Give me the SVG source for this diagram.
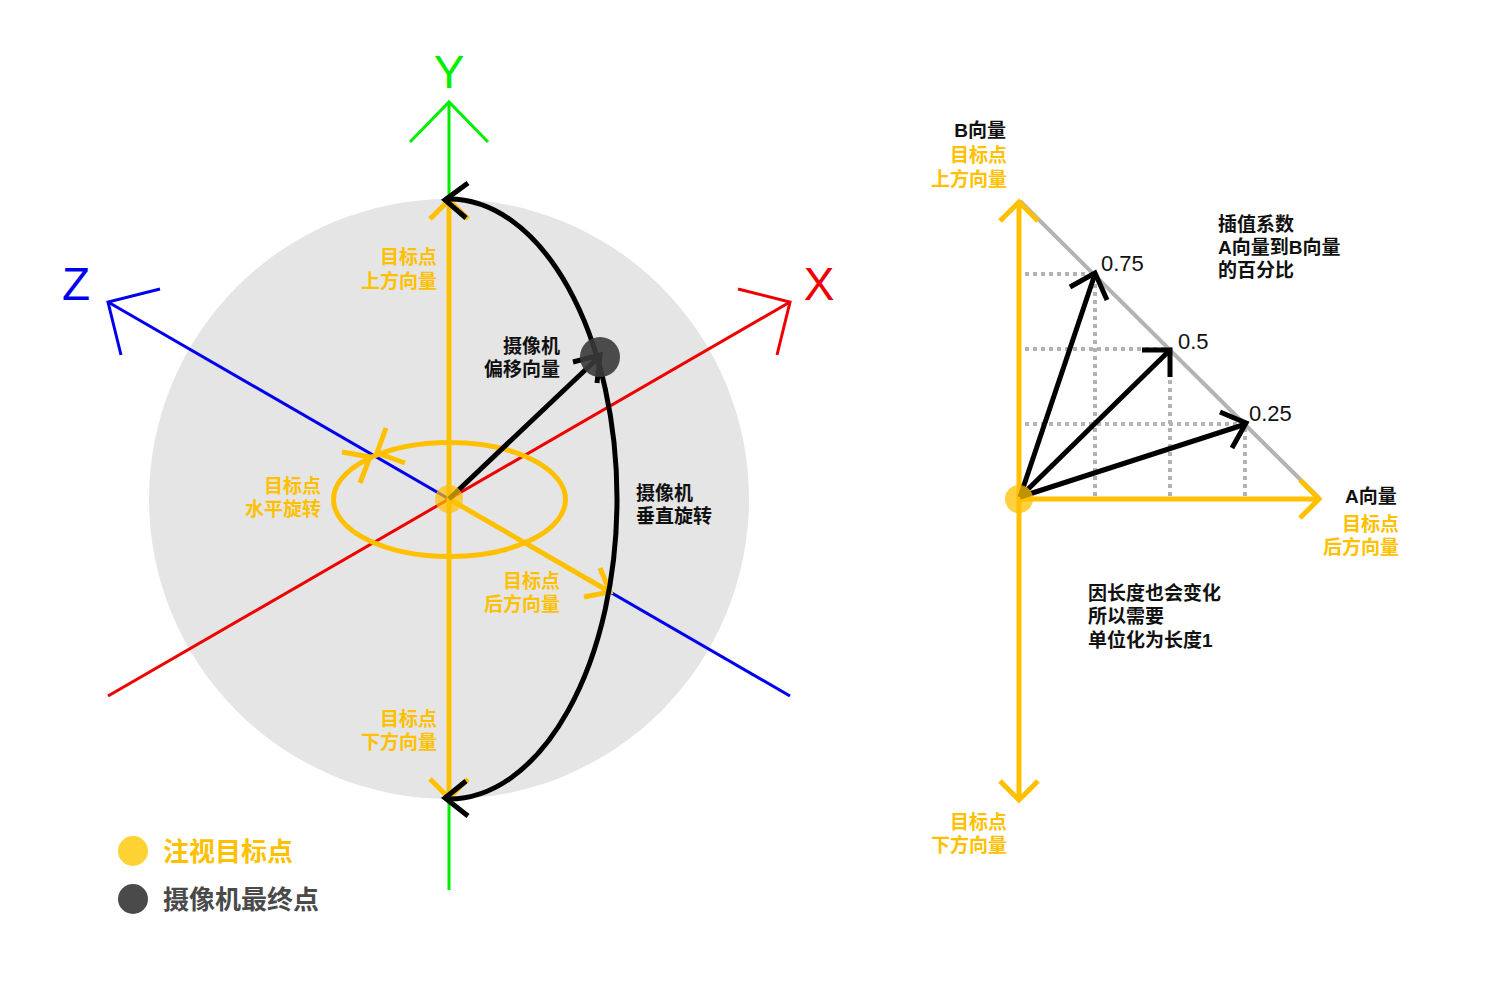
<svg xmlns="http://www.w3.org/2000/svg" width="1500" height="1000" viewBox="0 0 1500 1000">
<style>
.lb{font-family:"Liberation Sans","Noto Sans CJK SC",sans-serif;font-weight:700;font-size:19px}
.y{fill:#ffc000}
.k{fill:#111}
.r{text-anchor:end}
.num{font-family:"Liberation Sans",Arial,sans-serif;font-size:22px;fill:#111}
.ax{font-family:"Liberation Sans",Arial,sans-serif;font-size:46px}
.ys{stroke:#ffc000;stroke-width:5;fill:none;stroke-linecap:butt}
.bs{stroke:#000;stroke-width:5;fill:none}
.gd{stroke:#b3b3b3;stroke-width:4;stroke-dasharray:4 4;fill:none}
.lg{font-family:"Noto Sans CJK SC",sans-serif;font-weight:700;font-size:26px}
</style>
<rect width="1500" height="1000" fill="#fff"/>
<g id="sphere"><circle cx="449" cy="499" r="300" fill="#e5e5e5"/></g>
<g id="connectors">
  <g id="axis-y" stroke="#00ee00" stroke-width="3" fill="none">
    <line x1="449" y1="102" x2="449" y2="890"/>
    <polyline points="410,142 449,102 488,142"/>
  </g>
  <g id="axis-z" stroke="#0000ee" stroke-width="3" fill="none">
    <line x1="108" y1="302" x2="790" y2="696"/>
    <polyline points="160,289 108,302 121,355"/>
  </g>
  <g id="axis-x" stroke="#ee0000" stroke-width="3" fill="none">
    <line x1="790" y1="302" x2="108" y2="696"/>
    <polyline points="738,289 790,302 777,355"/>
  </g>
  <line class="ys" x1="449" y1="201" x2="449" y2="797"/>
  <polyline class="ys" points="430,219 449,200 468,219"/>
  <polyline class="ys" points="430,779 449,798 468,779"/>
  <line class="ys" x1="449" y1="499" x2="610" y2="592"/>
  <polyline class="ys" points="600,568 610,592 584,597"/>
  <ellipse class="ys" cx="449.5" cy="499.5" rx="116" ry="57"/>
  <polyline class="ys" points="386,428 377,453 405,463"/>
  <polyline class="ys" points="342,452 370,457 360,483"/>
  <path class="bs" d="M449,199 A168,300 0 0 1 449,799"/>
  <polyline class="bs" points="468,183 445,200 466,218"/>
  <polyline class="bs" points="466,781 445,798 468,816"/>
  <line class="bs" x1="449" y1="499" x2="600" y2="356"/>
  <polyline class="bs" points="573,362 600,355 597,383"/>
  <line x1="1020" y1="201" x2="1319" y2="498" stroke="#b3b3b3" stroke-width="4"/>
  <path class="gd" d="M1025,274H1095V499M1025,349H1170V499M1025,424H1245V499"/>
  <line class="ys" x1="1019" y1="202" x2="1019" y2="800"/>
  <polyline class="ys" points="1000,221 1019,202 1038,221"/>
  <polyline class="ys" points="1000,781 1019,800 1038,781"/>
  <line class="ys" x1="1019" y1="499" x2="1319" y2="499"/>
  <polyline class="ys" points="1300,480 1319,499 1300,518"/>
  <line class="bs" x1="1020" y1="497" x2="1095" y2="274"/>
  <polyline class="bs" points="1070,287 1095,273 1107,300"/>
  <line class="bs" x1="1020" y1="497" x2="1170" y2="350"/>
  <polyline class="bs" points="1142,350 1170,350 1170,377"/>
  <line class="bs" x1="1020" y1="497" x2="1246" y2="424"/>
  <polyline class="bs" points="1220,412 1246,423 1232,448"/>
</g>
<g id="target-point"><circle cx="449" cy="499" r="14" fill="#ffc000" opacity="0.7"/></g>
<g id="camera-point"><circle cx="600" cy="357" r="20" fill="#3a3a3a" opacity="0.9"/></g>
<g id="origin-right"><circle cx="1019" cy="499" r="14" fill="#ffc000" opacity="0.75"/></g>
<g id="axis-labels">
  <text class="ax" x="449" y="88" text-anchor="middle" fill="#00ee00">Y</text>
  <text class="ax" x="76" y="300" text-anchor="middle" fill="#0000ee">Z</text>
  <text class="ax" x="819" y="300" text-anchor="middle" fill="#ee0000">X</text>
</g>
<g id="labels-left">
  <text class="lb y r" x="437" y="264">目标点</text>
  <text class="lb y r" x="437" y="288">上方向量</text>
  <text class="lb k r" x="560" y="353">摄像机</text>
  <text class="lb k r" x="560" y="376">偏移向量</text>
  <text class="lb y r" x="321" y="493">目标点</text>
  <text class="lb y r" x="321" y="516">水平旋转</text>
  <text class="lb k" x="636" y="500">摄像机</text>
  <text class="lb k" x="636" y="523">垂直旋转</text>
  <text class="lb y r" x="560" y="588">目标点</text>
  <text class="lb y r" x="560" y="611">后方向量</text>
  <text class="lb y r" x="437" y="726">目标点</text>
  <text class="lb y r" x="437" y="749">下方向量</text>
</g>
<g id="legend">
  <circle cx="133" cy="851" r="15" fill="#ffd233"/>
  <text class="lg" x="163" y="861" fill="#ffc000">注视目标点</text>
  <circle cx="133" cy="899" r="15" fill="#4a4a4a"/>
  <text class="lg" x="163" y="909" fill="#4a4a4a">摄像机最终点</text>
</g>
<g id="labels-right">
  <text class="lb k r" x="1006" y="137">B向量</text>
  <text class="lb y r" x="1007" y="162">目标点</text>
  <text class="lb y r" x="1007" y="186">上方向量</text>
  <text class="lb k" x="1218" y="231">插值系数</text>
  <text class="lb k" x="1218" y="254">A向量到B向量</text>
  <text class="lb k" x="1218" y="277">的百分比</text>
  <text class="num" x="1101" y="271">0.75</text>
  <text class="num" x="1178" y="349">0.5</text>
  <text class="num" x="1249" y="421">0.25</text>
  <text class="lb k" x="1345" y="503">A向量</text>
  <text class="lb y r" x="1399" y="531">目标点</text>
  <text class="lb y r" x="1399" y="554">后方向量</text>
  <text class="lb k" x="1088" y="600">因长度也会变化</text>
  <text class="lb k" x="1088" y="623">所以需要</text>
  <text class="lb k" x="1088" y="647">单位化为长度1</text>
  <text class="lb y r" x="1007" y="829">目标点</text>
  <text class="lb y r" x="1007" y="852">下方向量</text>
</g>
</svg>
